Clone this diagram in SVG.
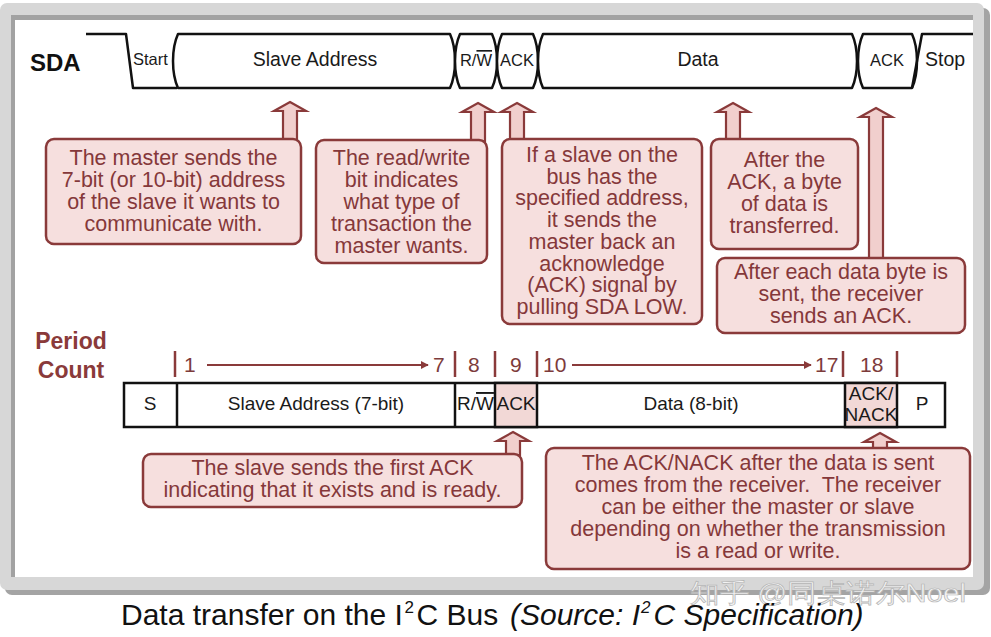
<svg xmlns="http://www.w3.org/2000/svg" width="991" height="637" viewBox="0 0 991 637">
<style>
text{font-family:"Liberation Sans",Arial,sans-serif}
.wave{fill:#fff;stroke:#111;stroke-width:2.5;stroke-linejoin:round}
.wl{fill:none;stroke:#111;stroke-width:2.5;stroke-linejoin:round}
.wt{fill:#1a1a1a;text-anchor:middle}
.co{fill:#f6dfde;stroke:#8a3a3a;stroke-width:2.5}
.ar{fill:#f1cfcd;stroke:#8a3a3a;stroke-width:2.2;stroke-linejoin:miter}
.ct{fill:#85383a;font-size:21.5px;text-anchor:middle}
.tick{stroke:#8a3a3a;stroke-width:2.5}
.num{fill:#7d3b3b;font-size:21px}
.cell{fill:#fff;stroke:#111;stroke-width:2.5}
.sh{fill:#f2d8d6;stroke:#111;stroke-width:2.5}
.bt{fill:#1a1a1a;font-size:19px;text-anchor:middle}
.ol{text-decoration:overline}
.cap{fill:#111;font-size:30px}
.sup{fill:#111;font-size:17px}
</style>
<defs>
<marker id="ah" viewBox="0 0 10 10" refX="9" refY="5" markerWidth="4" markerHeight="4" orient="auto" markerUnits="strokeWidth">
<path d="M0,0 L10,5 L0,10 Z" fill="#8a3a3a"/>
</marker>
</defs>
<rect width="991" height="637" fill="#fff"/>
<g id="frame">
<rect x="5" y="8" width="985" height="587" rx="7" fill="#a4a4a4"/>
<rect x="0" y="3" width="984" height="587" rx="7" fill="#d7d7d7"/>
<rect x="11" y="15" width="962" height="562" fill="#a2a2a2"/>
<rect x="15" y="20" width="958" height="557" fill="#fff"/>
</g>
<g id="sda">
<text x="30" y="71" font-size="24" font-weight="bold" fill="#111">SDA</text>
<path class="wl" d="M86,34 L126,34 L133,88 L177,88"/>
<text x="133" y="65" font-size="16.5" fill="#1a1a1a">Start</text>
<g id="cell-slave-address"><path class="wave" d="M178,34 L450,34 Q455,45 455,61 Q455,77 450,88 L178,88 Q173,77 173,61 Q173,45 178,34 Z"/>
<text class="wt" x="315" y="66" font-size="19.5">Slave Address</text></g>
<g id="cell-rw"><path class="wave" d="M460,34 L492,34 Q497,45 497,61 Q497,77 492,88 L460,88 Q455,77 455,61 Q455,45 460,34 Z"/>
<text class="wt" x="476" y="66" font-size="16.5">R/<tspan class="ol">W</tspan></text></g>
<g id="cell-ack1"><path class="wave" d="M502,34 L533,34 Q538,45 538,61 Q538,77 533,88 L502,88 Q497,77 497,61 Q497,45 502,34 Z"/>
<text class="wt" x="517" y="66" font-size="16.5">ACK</text></g>
<g id="cell-data"><path class="wave" d="M543,34 L852,34 Q857,45 857,61 Q857,77 852,88 L543,88 Q538,77 538,61 Q538,45 543,34 Z"/>
<text class="wt" x="698" y="66" font-size="19.5">Data</text></g>
<g id="cell-ack2"><path class="wave" d="M863,34 L912,34 Q917,45 917,61 Q917,77 912,88 L863,88 Q858,77 858,61 Q858,45 863,34 Z"/>
<text class="wt" x="887" y="66" font-size="16.5">ACK</text></g>
<path class="wl" d="M912,88 L922,34 L973,34"/>
<text x="925" y="66" font-size="19.5" fill="#1a1a1a">Stop</text>
</g>
<g id="connectors">
<polygon class="ar" points="290,102 306,111 297,111 297,140 283,140 283,111 274,111"/>
<polygon class="ar" points="478,103 494,112 485,112 485,141 471,141 471,112 462,112"/>
<polygon class="ar" points="517,103 533,112 524,112 524,140 510,140 510,112 501,112"/>
<polygon class="ar" points="733,103 749,112 740,112 740,140 726,140 726,112 717,112"/>
<polygon class="ar" points="876,108 892,117 883,117 883,259 869,259 869,117 860,117"/>
<polygon class="ar" points="513,432 529,441 520,441 520,455 506,455 506,441 497,441"/>
<polygon class="ar" points="880,433 896,442 887,442 887,449 873,449 873,442 864,442"/>
<line x1="207" y1="365" x2="428" y2="365" stroke="#8a3a3a" stroke-width="2" marker-end="url(#ah)"/>
<line x1="572" y1="365" x2="811" y2="365" stroke="#8a3a3a" stroke-width="2" marker-end="url(#ah)"/>
</g>
<g id="callout-address">
<rect class="co" x="46" y="139" width="255" height="105" rx="8"/>
<text class="ct"><tspan x="173.5" y="165">The master sends the</tspan><tspan x="173.5" y="187">7-bit (or 10-bit) address</tspan><tspan x="173.5" y="209">of the slave it wants to</tspan><tspan x="173.5" y="231">communicate with.</tspan></text>
</g>
<g id="callout-rw">
<rect class="co" x="316" y="140" width="171" height="123" rx="8"/>
<text class="ct"><tspan x="401.5" y="165">The read/write</tspan><tspan x="401.5" y="187">bit indicates</tspan><tspan x="401.5" y="209">what type of</tspan><tspan x="401.5" y="231">transaction the</tspan><tspan x="401.5" y="253">master wants.</tspan></text>
</g>
<g id="callout-ack">
<rect class="co" x="502" y="139" width="200" height="185" rx="8"/>
<text class="ct"><tspan x="602" y="162">If a slave on the</tspan><tspan x="602" y="183.7">bus has the</tspan><tspan x="602" y="205.4">specified address,</tspan><tspan x="602" y="227.1">it sends the</tspan><tspan x="602" y="248.8">master back an</tspan><tspan x="602" y="270.5">acknowledge</tspan><tspan x="602" y="292.2">(ACK) signal by</tspan><tspan x="602" y="313.9">pulling SDA LOW.</tspan></text>
</g>
<g id="callout-data">
<rect class="co" x="711" y="139" width="147" height="110" rx="8"/>
<text class="ct"><tspan x="784.5" y="167">After the</tspan><tspan x="784.5" y="189">ACK, a byte</tspan><tspan x="784.5" y="211">of data is</tspan><tspan x="784.5" y="233">transferred.</tspan></text>
</g>
<g id="callout-each-ack">
<rect class="co" x="717" y="258" width="248" height="75" rx="8"/>
<text class="ct"><tspan x="841" y="279">After each data byte is</tspan><tspan x="841" y="301">sent, the receiver</tspan><tspan x="841" y="323">sends an ACK.</tspan></text>
</g>
<g id="period-count">
<text x="71" y="349" font-size="23" font-weight="bold" fill="#8a3a3a" text-anchor="middle">Period</text>
<text x="71" y="378" font-size="23" font-weight="bold" fill="#8a3a3a" text-anchor="middle">Count</text>
<line class="tick" x1="175" y1="351" x2="175" y2="377"/>
<line class="tick" x1="455" y1="351" x2="455" y2="377"/>
<line class="tick" x1="495" y1="351" x2="495" y2="377"/>
<line class="tick" x1="537" y1="351" x2="537" y2="377"/>
<line class="tick" x1="843" y1="351" x2="843" y2="377"/>
<line class="tick" x1="897" y1="351" x2="897" y2="377"/>
<text class="num" x="184" y="372">1</text>
<text class="num" x="433" y="372">7</text>
<text class="num" x="468" y="372">8</text>
<text class="num" x="510" y="372">9</text>
<text class="num" x="543" y="372">10</text>
<text class="num" x="815" y="372">17</text>
<text class="num" x="860" y="372">18</text>
</g>
<g id="frame-row">
<rect class="cell" x="124" y="383" width="821" height="44"/>
<rect class="sh" x="495" y="383" width="42" height="44"/>
<rect class="sh" x="845" y="383" width="52" height="44"/>
<line x1="177" y1="383" x2="177" y2="427" stroke="#111" stroke-width="2.5"/>
<line x1="455" y1="383" x2="455" y2="427" stroke="#111" stroke-width="2.5"/>
<text class="bt" x="150" y="410">S</text>
<text class="bt" x="316" y="410">Slave Address (7-bit)</text>
<text class="bt" x="475.5" y="410" font-size="16.5">R/<tspan class="ol">W</tspan></text>
<text class="bt" x="516" y="410" font-size="16.5">ACK</text>
<text class="bt" x="691" y="410">Data (8-bit)</text>
<text class="bt" x="871" y="400" font-size="16">ACK/</text>
<text class="bt" x="871" y="421" font-size="16">NACK</text>
<text class="bt" x="922" y="410">P</text>
</g>
<g id="callout-first-ack">
<rect class="co" x="143" y="454" width="379" height="53" rx="8"/>
<text class="ct"><tspan x="332.5" y="475">The slave sends the first ACK</tspan><tspan x="332.5" y="497">indicating that it exists and is ready.</tspan></text>
</g>
<g id="callout-nack">
<rect class="co" x="546" y="448" width="424" height="121" rx="8"/>
<text class="ct" xml:space="preserve"><tspan x="758" y="470">The ACK/NACK after the data is sent</tspan><tspan x="758" y="492">comes from the receiver.  The receiver</tspan><tspan x="758" y="514">can be either the master or slave</tspan><tspan x="758" y="536">depending on whether the transmission</tspan><tspan x="758" y="558">is a read or write.</tspan></text>
</g>
<text x="690" y="602" font-size="26" font-family="'Noto Sans CJK SC',sans-serif" fill="#f3f3f3" stroke="#b5b5b5" stroke-width="0.7" textLength="276" lengthAdjust="spacingAndGlyphs">知乎 @同桌诺尔Noel</text>
<g id="caption">
<text class="cap" x="121" y="625">Data transfer on the I</text>
<text class="sup" x="404.5" y="613">2</text>
<text class="cap" x="416.5" y="625">C Bus</text>
<text class="cap" x="510" y="625" font-style="italic">(Source: I</text>
<text class="sup" x="641" y="613" font-style="italic">2</text>
<text class="cap" x="653.5" y="625" font-style="italic">C Specification)</text>
</g>
</svg>
